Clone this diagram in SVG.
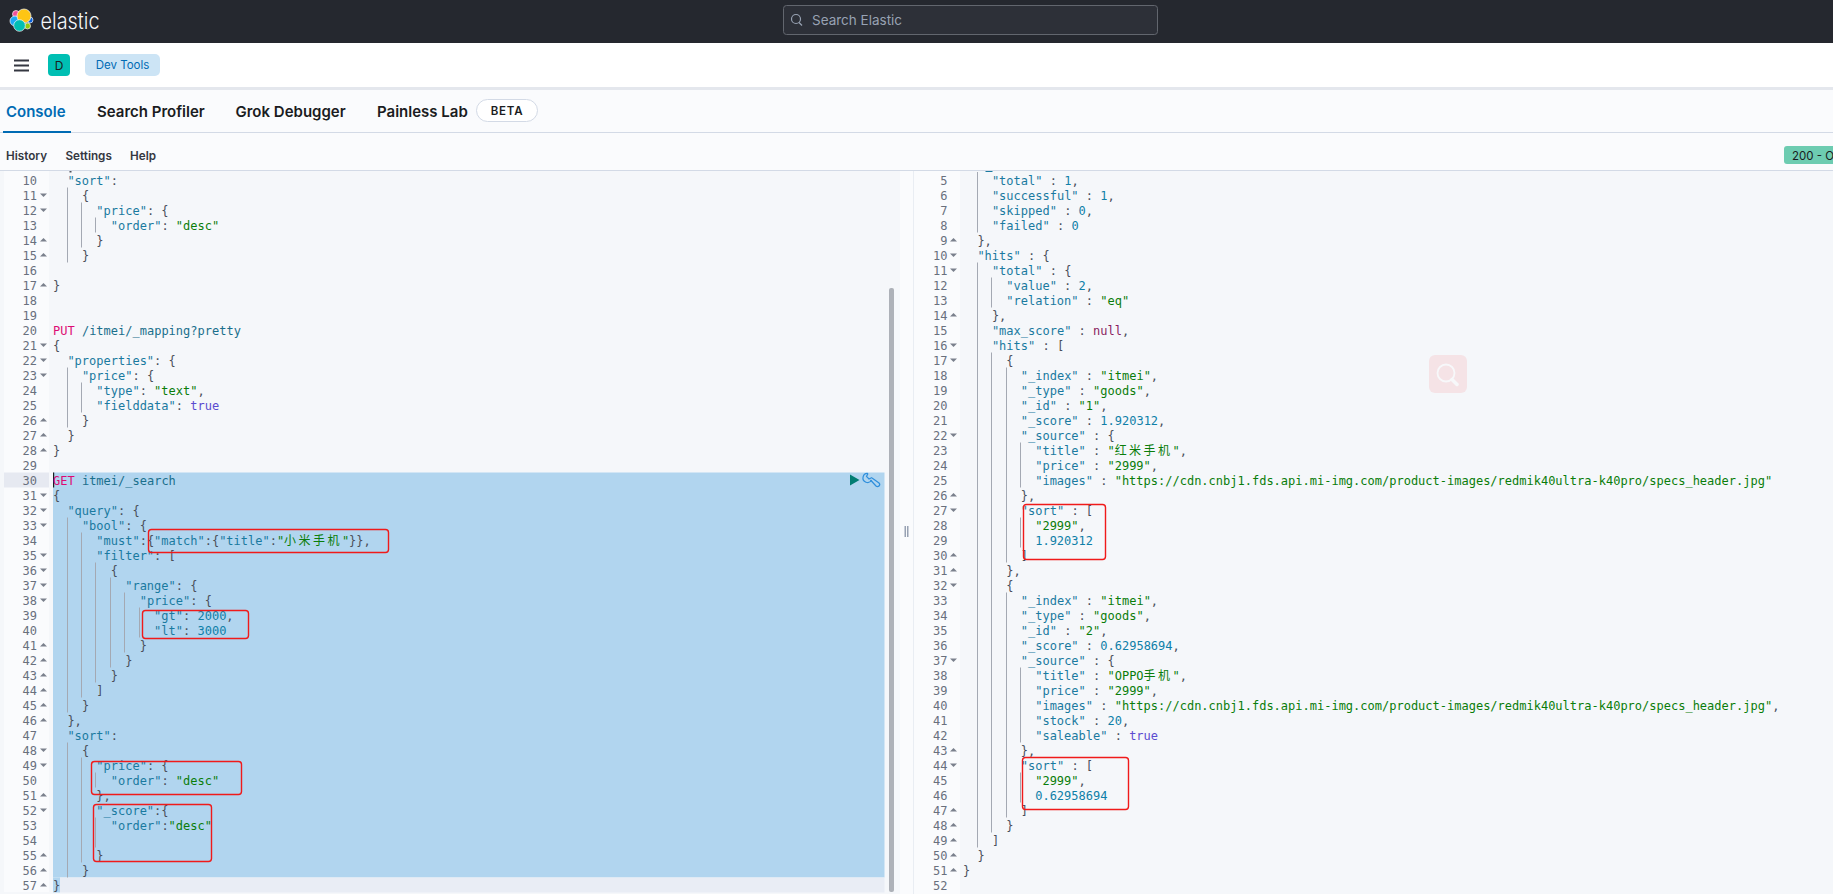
<svg xmlns="http://www.w3.org/2000/svg" width="1833" height="894" viewBox="0 0 1833 894">
<style>
text{white-space:pre}
.ui{font-family:Inter,"Noto Sans","Liberation Sans",sans-serif}
.tab{font-size:15px;font-weight:600;fill:#1a1c21}
.tool{font-size:11.700px;font-weight:600;fill:#343741}
.code text,.code{font-family:"DejaVu Sans Mono","Noto Sans CJK SC",monospace;font-size:12px;fill:#4a4f5a}
.ln text,.ln{font-family:"DejaVu Sans Mono",monospace;font-size:12px;fill:#69707d;text-anchor:end}
.k{fill:#1a7aa0}.s{fill:#0a7d0a}.n{fill:#0f7fa8}.m{fill:#dd0a73}.c{fill:#5b4bd0}.u{fill:#8a1c5e}.p{fill:#1a6f8c}
.cjk{font-family:"Noto Sans CJK SC",sans-serif}
.guide line{stroke:#a4a9b3;stroke-width:1}
.red rect{fill:none;stroke:#f01a1a;stroke-width:1.4}
.up{fill:#7a808c}
</style>
<defs>
<clipPath id="clipEd"><rect x="0" y="171" width="1833" height="723"/></clipPath>
<path id="dn" d="M-3.5-1.5h7L0 2z" class="up"/>
<path id="upm" d="M-3.5 1.5h7L0-2z" class="up"/>
</defs>

<rect width="1833" height="894" fill="#f5f7fa"/>

<g id="topbar">
<rect width="1833" height="43" fill="#25282f"/>
<g id="logo" stroke="#f5f7fa" stroke-width=".7">
<circle cx="16" cy="14" r="3.500" fill="#f04e98"/>
<circle cx="30" cy="20" r="3" fill="#0b64dd"/>
<circle cx="15" cy="21" r="5" fill="#1ba9f5"/>
<circle cx="27.500" cy="26" r="3" fill="#93c90e"/>
<circle cx="24" cy="16" r="7" fill="#fec514"/>
<circle cx="19.500" cy="25.500" r="5.800" fill="#00bfb3"/>
</g>
<text class="ui" x="40.500" y="29" font-size="22.500" font-weight="300" fill="#f5f7fa" textLength="59" lengthAdjust="spacingAndGlyphs">elastic</text>
<g id="search">
<rect x="783.500" y="5.500" width="374" height="29" rx="3" fill="#2d3038" stroke="#62666e"/>
<circle cx="796" cy="19" r="4.500" fill="none" stroke="#98a2b3" stroke-width="1.200"/>
<path d="M799 22.500l3 3" stroke="#98a2b3" stroke-width="1.200"/>
<text class="ui" x="812" y="25" font-size="13.500" fill="#98a2b3">Search Elastic</text>
</g>
</g>

<g id="navbar">
<rect y="43" width="1833" height="44" fill="#fff"/>
<rect y="87" width="1833" height="3" fill="#e4e7ed"/>
<path d="M14 60.500h15M14 65.500h15M14 70.500h15" stroke="#343741" stroke-width="2"/>
<rect x="48" y="54" width="22" height="22" rx="4" fill="#00bfb3"/>
<text class="ui" x="59" y="69.500" font-size="12" text-anchor="middle" fill="#1a1c21">D</text>
<rect x="85" y="54" width="75" height="22" rx="5" fill="#cce4f5"/>
<text class="ui" x="122.500" y="69" font-size="11.500" text-anchor="middle" fill="#006bb4">Dev Tools</text>
</g>

<g id="tabs">
<rect y="90" width="1833" height="80" fill="#fafbfd"/>
<path d="M0 132.500H1833M0 170.500H1833" stroke="#d3dae6"/>
<rect x="3" y="131" width="68" height="2" fill="#006bb4"/>
<text class="ui tab" x="6" y="116.500" style="fill:#006bb4">Console</text>
<text class="ui tab" x="97" y="116.500">Search Profiler</text>
<text class="ui tab" x="235.500" y="116.500">Grok Debugger</text>
<text class="ui tab" x="377" y="116.500">Painless Lab</text>
<rect x="476.500" y="99.500" width="61" height="22" rx="11" fill="#fff" stroke="#d3dae6"/>
<text class="ui" x="507" y="115" font-size="11.500" font-weight="600" letter-spacing=".8" text-anchor="middle" fill="#1a1c21">BETA</text>
<text class="ui tool" x="6" y="160">History</text>
<text class="ui tool" x="65.500" y="160">Settings</text>
<text class="ui tool" x="130" y="160">Help</text>
<rect x="1784" y="146" width="60" height="18" rx="3" fill="#6dccb1"/>
<text class="ui" x="1792" y="160" font-size="11.500" fill="#1a1c21">200 - O</text>
</g>

<g id="panels">
<rect x="4" y="171" width="45" height="721" fill="#fafbfd"/>
<rect x="900" y="171" width="13" height="723" fill="#fafbfd"/>
<rect x="913" y="171" width="47" height="723" fill="#fafbfd"/>
<rect x="913" y="171" width="1" height="723" fill="#e9edf3"/>
<rect x="4" y="472.500" width="45" height="15" fill="#e6e9f1"/>
<rect x="53" y="472.500" width="831.500" height="405" fill="#b1d5ef"/>
<rect x="60" y="877.500" width="824.500" height="15" fill="#e9edf5"/>
<rect x="53" y="877.500" width="7" height="15" fill="#b1d5ef"/>
<rect x="53" y="472.500" width="1.200" height="15" fill="#1a1c21"/>
<rect x="889" y="288" width="5" height="604" rx="2" fill="#adb1b8"/>
<rect x="904.500" y="526" width="1.500" height="11" fill="#98a2b3"/>
<rect x="907" y="526" width="1.500" height="11" fill="#98a2b3"/>
<path id="run" d="M850 474.500v11l9.500-5.500z" fill="#017d73"/>
<g id="wrench" fill="none" stroke="#2f8fdc" stroke-width="1.200">
<path d="M868 473.500a4.500 4.500 0 1 0 3.500 6.500"/>
<path d="M868 473.500l-1.500 3 2.500 2.500 3-1.500"/>
<path d="M872 478l7 5a2 2 0 0 1-3 3l-5.500-6"/>
</g>
<g id="watermark">
<rect x="1429" y="355" width="38" height="38" rx="6" fill="#f5e3e6"/>
<circle cx="1446" cy="373" r="8.500" fill="none" stroke="#f7f8fa" stroke-width="1.800"/>
<path d="M1452 379.500l5 5" stroke="#f7f8fa" stroke-width="3.500" stroke-linecap="round"/>
</g>
</g>

<g id="left-guides" class="guide" clip-path="url(#clipEd)">
<line x1="67.500" x2="67.500" y1="187.500" y2="262.500"/><line x1="81.500" x2="81.500" y1="202.500" y2="247.500"/><line x1="95.500" x2="95.500" y1="217.500" y2="232.500"/>
<line x1="67.500" x2="67.500" y1="367.500" y2="427.500"/><line x1="81.500" x2="81.500" y1="382.500" y2="412.500"/>
<line x1="67.500" x2="67.500" y1="517.500" y2="712.500"/><line x1="81.500" x2="81.500" y1="532.500" y2="697.500"/><line x1="95.500" x2="95.500" y1="562.500" y2="682.500"/><line x1="110.500" x2="110.500" y1="577.500" y2="667.500"/><line x1="124.500" x2="124.500" y1="592.500" y2="652.500"/><line x1="139.500" x2="139.500" y1="607.500" y2="637.500"/>
<line x1="67.500" x2="67.500" y1="742.500" y2="877.500"/><line x1="81.500" x2="81.500" y1="757.500" y2="862.500"/><line x1="95.500" x2="95.500" y1="772.500" y2="787.500"/><line x1="95.500" x2="95.500" y1="817.500" y2="847.500"/>
</g>
<g id="right-guides" class="guide" clip-path="url(#clipEd)">
<line x1="977.500" x2="977.500" y1="172" y2="232.500"/>
<line x1="977.500" x2="977.500" y1="262.500" y2="847.500"/>
<line x1="991.500" x2="991.500" y1="277.500" y2="307.500"/><line x1="991.500" x2="991.500" y1="352.500" y2="832.500"/>
<line x1="1006.500" x2="1006.500" y1="367.500" y2="562.500"/><line x1="1006.500" x2="1006.500" y1="592.500" y2="817.500"/>
<line x1="1020.500" x2="1020.500" y1="442.500" y2="487.500"/><line x1="1020.500" x2="1020.500" y1="517.500" y2="547.500"/><line x1="1020.500" x2="1020.500" y1="667.500" y2="742.500"/><line x1="1020.500" x2="1020.500" y1="772.500" y2="802.500"/>
</g>

<g id="left-numbers" class="ln">
<text x="37" y="184.500">10</text><text x="37" y="199.500">11</text><text x="37" y="214.500">12</text><text x="37" y="229.500">13</text><text x="37" y="244.500">14</text><text x="37" y="259.500">15</text><text x="37" y="274.500">16</text><text x="37" y="289.500">17</text><text x="37" y="304.500">18</text><text x="37" y="319.500">19</text><text x="37" y="334.500">20</text><text x="37" y="349.500">21</text><text x="37" y="364.500">22</text><text x="37" y="379.500">23</text><text x="37" y="394.500">24</text><text x="37" y="409.500">25</text><text x="37" y="424.500">26</text><text x="37" y="439.500">27</text><text x="37" y="454.500">28</text><text x="37" y="469.500">29</text><text x="37" y="484.500">30</text><text x="37" y="499.500">31</text><text x="37" y="514.500">32</text><text x="37" y="529.500">33</text><text x="37" y="544.500">34</text><text x="37" y="559.500">35</text><text x="37" y="574.500">36</text><text x="37" y="589.500">37</text><text x="37" y="604.500">38</text><text x="37" y="619.500">39</text><text x="37" y="634.500">40</text><text x="37" y="649.500">41</text><text x="37" y="664.500">42</text><text x="37" y="679.500">43</text><text x="37" y="694.500">44</text><text x="37" y="709.500">45</text><text x="37" y="724.500">46</text><text x="37" y="739.500">47</text><text x="37" y="754.500">48</text><text x="37" y="769.500">49</text><text x="37" y="784.500">50</text><text x="37" y="799.500">51</text><text x="37" y="814.500">52</text><text x="37" y="829.500">53</text><text x="37" y="844.500">54</text><text x="37" y="859.500">55</text><text x="37" y="874.500">56</text><text x="37" y="889.500">57</text>
</g>
<g id="left-folds">
<use href="#dn" x="43.500" y="195"/><use href="#dn" x="43.500" y="210"/><use href="#upm" x="43.500" y="240"/><use href="#upm" x="43.500" y="255"/><use href="#upm" x="43.500" y="285"/>
<use href="#dn" x="43.500" y="345"/><use href="#dn" x="43.500" y="360"/><use href="#dn" x="43.500" y="375"/><use href="#upm" x="43.500" y="420"/><use href="#upm" x="43.500" y="435"/><use href="#upm" x="43.500" y="450"/>
<use href="#dn" x="43.500" y="495"/><use href="#dn" x="43.500" y="510"/><use href="#dn" x="43.500" y="525"/><use href="#dn" x="43.500" y="555"/><use href="#dn" x="43.500" y="570"/><use href="#dn" x="43.500" y="585"/><use href="#dn" x="43.500" y="600"/>
<use href="#upm" x="43.500" y="645"/><use href="#upm" x="43.500" y="660"/><use href="#upm" x="43.500" y="675"/><use href="#upm" x="43.500" y="690"/><use href="#upm" x="43.500" y="705"/><use href="#upm" x="43.500" y="720"/>
<use href="#dn" x="43.500" y="750"/><use href="#dn" x="43.500" y="765"/><use href="#upm" x="43.500" y="795"/><use href="#dn" x="43.500" y="810"/><use href="#upm" x="43.500" y="855"/><use href="#upm" x="43.500" y="870"/><use href="#upm" x="43.500" y="885"/>
</g>

<g id="left-code" class="code" clip-path="url(#clipEd)">
<rect x="69.500" y="171" width="2" height="1.500" fill="#4a4f5a"/>
<text x="67.400" y="184.500"><tspan class="k">"sort"</tspan>:</text>
<text x="81.900" y="199.500">{</text>
<text x="96.300" y="214.500"><tspan class="k">"price"</tspan>: {</text>
<text x="110.800" y="229.500"><tspan class="k">"order"</tspan>: <tspan class="s">"desc"</tspan></text>
<text x="96.300" y="244.500">}</text>
<text x="81.900" y="259.500">}</text>
<text x="53" y="289.500">}</text>
<text x="53" y="334.500"><tspan class="m">PUT</tspan> <tspan class="p">/itmei/_mapping?pretty</tspan></text>
<text x="53" y="349.500">{</text>
<text x="67.400" y="364.500"><tspan class="k">"properties"</tspan>: {</text>
<text x="81.900" y="379.500"><tspan class="k">"price"</tspan>: {</text>
<text x="96.300" y="394.500"><tspan class="k">"type"</tspan>: <tspan class="s">"text"</tspan>,</text>
<text x="96.300" y="409.500"><tspan class="k">"fielddata"</tspan>: <tspan class="c">true</tspan></text>
<text x="81.900" y="424.500">}</text>
<text x="67.400" y="439.500">}</text>
<text x="53" y="454.500">}</text>
<text x="53" y="484.500"><tspan class="m">GET</tspan> <tspan class="p">itmei/_search</tspan></text>
<text x="53" y="499.500">{</text>
<text x="67.400" y="514.500"><tspan class="k">"query"</tspan>: {</text>
<text x="81.900" y="529.500"><tspan class="k">"bool"</tspan>: {</text>
<text x="96.300" y="544.500"><tspan class="k">"must"</tspan>:{<tspan class="k">"match"</tspan>:{<tspan class="k">"title"</tspan>:<tspan class="s">"</tspan><tspan class="s cjk" x="284.100 298.500 313 327.400">小米手机</tspan><tspan class="s" x="341.900">"</tspan><tspan x="349.100">}},</tspan></text>
<text x="96.300" y="559.500"><tspan class="k">"filter"</tspan>: [</text>
<text x="110.800" y="574.500">{</text>
<text x="125.200" y="589.500"><tspan class="k">"range"</tspan>: {</text>
<text x="139.700" y="604.500"><tspan class="k">"price"</tspan>: {</text>
<text x="154.100" y="619.500"><tspan class="k">"gt"</tspan>: <tspan class="n">2000</tspan>,</text>
<text x="154.100" y="634.500"><tspan class="k">"lt"</tspan>: <tspan class="n">3000</tspan></text>
<text x="139.700" y="649.500">}</text>
<text x="125.200" y="664.500">}</text>
<text x="110.800" y="679.500">}</text>
<text x="96.300" y="694.500">]</text>
<text x="81.900" y="709.500">}</text>
<text x="67.400" y="724.500">},</text>
<text x="67.400" y="739.500"><tspan class="k">"sort"</tspan>:</text>
<text x="81.900" y="754.500">{</text>
<text x="96.300" y="769.500"><tspan class="k">"price"</tspan>: {</text>
<text x="110.800" y="784.500"><tspan class="k">"order"</tspan>: <tspan class="s">"desc"</tspan></text>
<text x="96.300" y="799.500">},</text>
<text x="96.300" y="814.500"><tspan class="k">"_score"</tspan>:{</text>
<text x="110.800" y="829.500"><tspan class="k">"order"</tspan>:<tspan class="s">"desc"</tspan></text>
<text x="96.300" y="859.500">}</text>
<text x="81.900" y="874.500">}</text>
<text x="53" y="889.500">}</text>
</g>

<g id="right-numbers" class="ln">
<text x="947.500" y="184.500">5</text><text x="947.500" y="199.500">6</text><text x="947.500" y="214.500">7</text><text x="947.500" y="229.500">8</text><text x="947.500" y="244.500">9</text><text x="947.500" y="259.500">10</text><text x="947.500" y="274.500">11</text><text x="947.500" y="289.500">12</text><text x="947.500" y="304.500">13</text><text x="947.500" y="319.500">14</text><text x="947.500" y="334.500">15</text><text x="947.500" y="349.500">16</text><text x="947.500" y="364.500">17</text><text x="947.500" y="379.500">18</text><text x="947.500" y="394.500">19</text><text x="947.500" y="409.500">20</text><text x="947.500" y="424.500">21</text><text x="947.500" y="439.500">22</text><text x="947.500" y="454.500">23</text><text x="947.500" y="469.500">24</text><text x="947.500" y="484.500">25</text><text x="947.500" y="499.500">26</text><text x="947.500" y="514.500">27</text><text x="947.500" y="529.500">28</text><text x="947.500" y="544.500">29</text><text x="947.500" y="559.500">30</text><text x="947.500" y="574.500">31</text><text x="947.500" y="589.500">32</text><text x="947.500" y="604.500">33</text><text x="947.500" y="619.500">34</text><text x="947.500" y="634.500">35</text><text x="947.500" y="649.500">36</text><text x="947.500" y="664.500">37</text><text x="947.500" y="679.500">38</text><text x="947.500" y="694.500">39</text><text x="947.500" y="709.500">40</text><text x="947.500" y="724.500">41</text><text x="947.500" y="739.500">42</text><text x="947.500" y="754.500">43</text><text x="947.500" y="769.500">44</text><text x="947.500" y="784.500">45</text><text x="947.500" y="799.500">46</text><text x="947.500" y="814.500">47</text><text x="947.500" y="829.500">48</text><text x="947.500" y="844.500">49</text><text x="947.500" y="859.500">50</text><text x="947.500" y="874.500">51</text><text x="947.500" y="889.500">52</text>
</g>
<g id="right-folds">
<use href="#upm" x="953.500" y="240"/><use href="#dn" x="953.500" y="255"/><use href="#dn" x="953.500" y="270"/><use href="#upm" x="953.500" y="315"/><use href="#dn" x="953.500" y="345"/><use href="#dn" x="953.500" y="360"/><use href="#dn" x="953.500" y="435"/><use href="#upm" x="953.500" y="495"/><use href="#dn" x="953.500" y="510"/><use href="#upm" x="953.500" y="555"/><use href="#upm" x="953.500" y="570"/><use href="#dn" x="953.500" y="585"/><use href="#dn" x="953.500" y="660"/><use href="#upm" x="953.500" y="750"/><use href="#dn" x="953.500" y="765"/><use href="#upm" x="953.500" y="810"/><use href="#upm" x="953.500" y="825"/><use href="#upm" x="953.500" y="840"/><use href="#upm" x="953.500" y="855"/><use href="#upm" x="953.500" y="870"/>
</g>

<g id="right-code" class="code" clip-path="url(#clipEd)">
<rect x="985.500" y="171" width="7" height="1" fill="#1a7aa0"/>
<text x="991.900" y="184.500"><tspan class="k">"total"</tspan> : <tspan class="n">1</tspan>,</text>
<text x="991.900" y="199.500"><tspan class="k">"successful"</tspan> : <tspan class="n">1</tspan>,</text>
<text x="991.900" y="214.500"><tspan class="k">"skipped"</tspan> : <tspan class="n">0</tspan>,</text>
<text x="991.900" y="229.500"><tspan class="k">"failed"</tspan> : <tspan class="n">0</tspan></text>
<text x="977.400" y="244.500">},</text>
<text x="977.400" y="259.500"><tspan class="k">"hits"</tspan> : {</text>
<text x="991.900" y="274.500"><tspan class="k">"total"</tspan> : {</text>
<text x="1006.300" y="289.500"><tspan class="k">"value"</tspan> : <tspan class="n">2</tspan>,</text>
<text x="1006.300" y="304.500"><tspan class="k">"relation"</tspan> : <tspan class="s">"eq"</tspan></text>
<text x="991.900" y="319.500">},</text>
<text x="991.900" y="334.500"><tspan class="k">"max_score"</tspan> : <tspan class="u">null</tspan>,</text>
<text x="991.900" y="349.500"><tspan class="k">"hits"</tspan> : [</text>
<text x="1006.300" y="364.500">{</text>
<text x="1020.800" y="379.500"><tspan class="k">"_index"</tspan> : <tspan class="s">"itmei"</tspan>,</text>
<text x="1020.800" y="394.500"><tspan class="k">"_type"</tspan> : <tspan class="s">"goods"</tspan>,</text>
<text x="1020.800" y="409.500"><tspan class="k">"_id"</tspan> : <tspan class="s">"1"</tspan>,</text>
<text x="1020.800" y="424.500"><tspan class="k">"_score"</tspan> : <tspan class="n">1.920312</tspan>,</text>
<text x="1020.800" y="439.500"><tspan class="k">"_source"</tspan> : {</text>
<text x="1035.200" y="454.500"><tspan class="k">"title"</tspan> : <tspan class="s">"</tspan><tspan class="s cjk" x="1114.700 1129.100 1143.600 1158">红米手机</tspan><tspan class="s" x="1172.500">"</tspan><tspan x="1179.700">,</tspan></text>
<text x="1035.200" y="469.500"><tspan class="k">"price"</tspan> : <tspan class="s">"2999"</tspan>,</text>
<text x="1035.200" y="484.500"><tspan class="k">"images"</tspan> : <tspan class="s">"https://cdn.cnbj1.fds.api.mi-img.com/product-images/redmik40ultra-k40pro/specs_header.jpg"</tspan></text>
<text x="1020.800" y="499.500">},</text>
<text x="1020.800" y="514.500"><tspan class="k">"sort"</tspan> : [</text>
<text x="1035.200" y="529.500"><tspan class="s">"2999"</tspan>,</text>
<text x="1035.200" y="544.500"><tspan class="n">1.920312</tspan></text>
<text x="1020.800" y="559.500">]</text>
<text x="1006.300" y="574.500">},</text>
<text x="1006.300" y="589.500">{</text>
<text x="1020.800" y="604.500"><tspan class="k">"_index"</tspan> : <tspan class="s">"itmei"</tspan>,</text>
<text x="1020.800" y="619.500"><tspan class="k">"_type"</tspan> : <tspan class="s">"goods"</tspan>,</text>
<text x="1020.800" y="634.500"><tspan class="k">"_id"</tspan> : <tspan class="s">"2"</tspan>,</text>
<text x="1020.800" y="649.500"><tspan class="k">"_score"</tspan> : <tspan class="n">0.62958694</tspan>,</text>
<text x="1020.800" y="664.500"><tspan class="k">"_source"</tspan> : {</text>
<text x="1035.200" y="679.500"><tspan class="k">"title"</tspan> : <tspan class="s">"OPPO</tspan><tspan class="s cjk" x="1143.600 1158">手机</tspan><tspan class="s" x="1172.500">"</tspan><tspan x="1179.700">,</tspan></text>
<text x="1035.200" y="694.500"><tspan class="k">"price"</tspan> : <tspan class="s">"2999"</tspan>,</text>
<text x="1035.200" y="709.500"><tspan class="k">"images"</tspan> : <tspan class="s">"https://cdn.cnbj1.fds.api.mi-img.com/product-images/redmik40ultra-k40pro/specs_header.jpg"</tspan>,</text>
<text x="1035.200" y="724.500"><tspan class="k">"stock"</tspan> : <tspan class="n">20</tspan>,</text>
<text x="1035.200" y="739.500"><tspan class="k">"saleable"</tspan> : <tspan class="c">true</tspan></text>
<text x="1020.800" y="754.500">},</text>
<text x="1020.800" y="769.500"><tspan class="k">"sort"</tspan> : [</text>
<text x="1035.200" y="784.500"><tspan class="s">"2999"</tspan>,</text>
<text x="1035.200" y="799.500"><tspan class="n">0.62958694</tspan></text>
<text x="1020.800" y="814.500">]</text>
<text x="1006.300" y="829.500">}</text>
<text x="991.900" y="844.500">]</text>
<text x="977.400" y="859.500">}</text>
<text x="963" y="874.500">}</text>
</g>

<g id="annotations" class="red">
<rect x="148.500" y="529.500" width="240" height="23" rx="3"/>
<rect x="142.500" y="610.500" width="106" height="28" rx="3"/>
<rect x="91.500" y="761.500" width="150" height="33" rx="3"/>
<rect x="93.500" y="804.500" width="118" height="57" rx="3"/>
<rect x="1023.500" y="504.500" width="82" height="55" rx="3"/>
<rect x="1022.500" y="757.500" width="106" height="52" rx="3"/>
</g>
</svg>
